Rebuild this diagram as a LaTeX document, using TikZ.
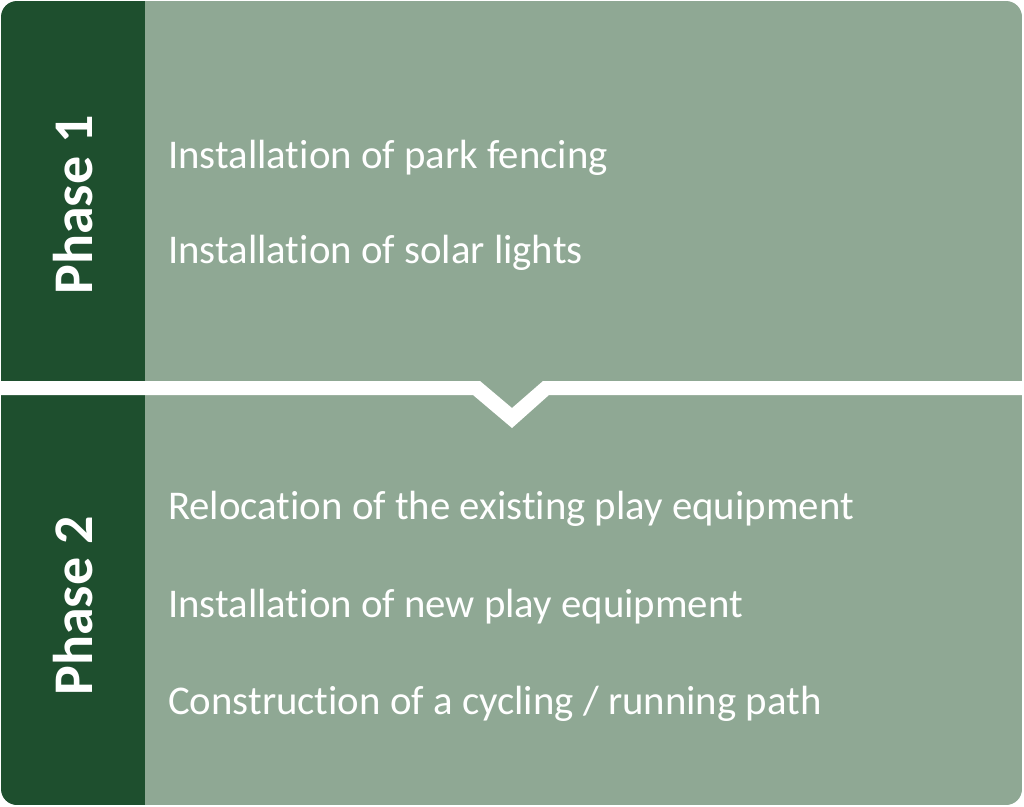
\documentclass[tikz,border=0pt]{standalone}
\usepackage{fontspec}
\setmainfont{Carlito}[Ligatures={NoCommon, NoContextual}]
\usetikzlibrary{calc}
\definecolor{phasegreen}{RGB}{30,79,46}
\definecolor{sagegreen}{RGB}{143,168,148}
\tikzset{
	phaselabel/.style={white, font=\fontsize{56}{60}\selectfont\bfseries, rotate=90, anchor=base, inner sep=0pt},
	tasklabel/.style={white, font=\fontsize{40.8}{46}\selectfont, anchor=base west, inner sep=0pt}
}

\begin{document}
\begin{tikzpicture}[x=1pt, y=-1pt]
	\useasboundingbox (0, 0) rectangle (1024, 806);
	\fill[white] (0, 0) rectangle (1024, 806);
	\begin{scope}
		\clip[rounded corners=16] (1, 1) rectangle (1022, 805);
		\fill[sagegreen] (145, 1) rectangle (1022, 805);
		\fill[phasegreen] (1, 1) rectangle (145, 805);
	\end{scope}
	% white band with the chevron between the two phases
	\fill[white] (0, 381) -- (480, 381) -- (512, 408) -- (543, 381) -- (1024, 381)
		-- (1024, 395) -- (549, 395) -- (512, 428) -- (473, 395) -- (0, 395) -- cycle;

	\node[phaselabel] (phase1) at (92, 205) {Phase 1};
	\node[phaselabel] (phase2) at (92, 606) {Phase 2};

	\foreach \n/\y/\txt in {1/168/{Installation of park fencing}, 2/263/{Installation of solar lights},
		3/519/{Relocation of the existing play equipment}, 4/617/{Installation of new play equipment},
		5/714/{Construction of a cycling / running path}}
		\node[tasklabel] (task\n) at (168, \y) {\txt};
\end{tikzpicture}
\end{document}
